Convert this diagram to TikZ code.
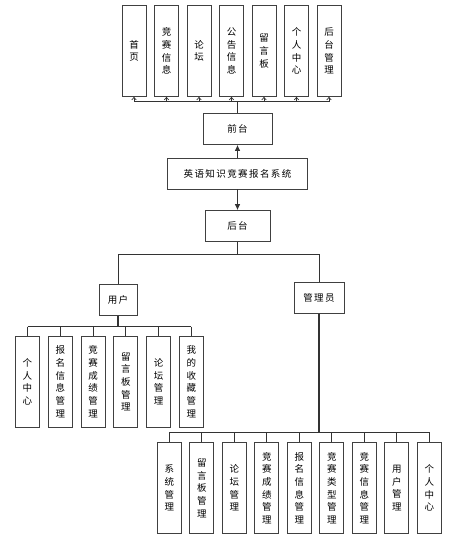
\documentclass[tikz,border=0pt]{standalone}
\usepackage{fontspec}
\newfontfamily\cjk[LetterSpace=15]{Noto Sans CJK SC}
\usepackage{tikz}
\usetikzlibrary{arrows.meta}

\begin{document}
\begin{tikzpicture}[x=1pt,y=-1pt,
	box/.style={draw=black!75,line width=0.8pt,inner sep=0pt,align=center,
		font=\cjk\fontsize{9.5}{12.7}\selectfont},
	tall/.style={box,minimum width=24pt,minimum height=91pt},
	wide/.style={box,minimum height=31pt},
	link/.style={draw=black!80,line width=0.7pt},
	up/.style={link,-{Straight Barb[length=2.5pt,width=4.5pt]}},
	push/.style={link,-{Latex[length=6pt,width=5.5pt]}}]
	\useasboundingbox (0,0) rectangle (474,541);
	% main column
	\node[wide,minimum width=69pt]  (front) at (237.5,129) {前台};
	\node[wide,minimum width=140pt] (sys)   at (237.5,173.5) {英语知识竞赛报名系统};
	\node[wide,minimum width=65pt]  (back)  at (237.5,226) {后台};
	\node[wide,minimum width=38pt]  (user)  at (118,300) {用户};
	\node[wide,minimum width=50pt]  (admin) at (319,298) {管理员};
	% front modules
	\node[tall] (f1) at (134,51)   {首\\页};
	\node[tall] (f2) at (166.5,51) {竞\\赛\\信\\息};
	\node[tall] (f3) at (199,51)   {论\\坛};
	\node[tall] (f4) at (231.5,51) {公\\告\\信\\息};
	\node[tall] (f5) at (264,51)   {留\\言\\板};
	\node[tall] (f6) at (296.5,51) {个\\人\\中\\心};
	\node[tall] (f7) at (329,51)   {后\\台\\管\\理};
	% user modules
	\node[tall] (u1) at (27.5,381.7)  {个\\人\\中\\心};
	\node[tall] (u2) at (60.3,381.7)  {报\\名\\信\\息\\管\\理};
	\node[tall] (u3) at (93,381.7)    {竞\\赛\\成\\绩\\管\\理};
	\node[tall] (u4) at (125.8,381.7) {留\\言\\板\\管\\理};
	\node[tall] (u5) at (158.5,381.7) {论\\坛\\管\\理};
	\node[tall] (u6) at (191.3,381.7) {我\\的\\收\\藏\\管\\理};
	% admin modules
	\node[tall] (a1) at (169.3,488) {系\\统\\管\\理};
	\node[tall] (a2) at (201.8,488) {留\\言\\板\\管\\理};
	\node[tall] (a3) at (234.3,488) {论\\坛\\管\\理};
	\node[tall] (a4) at (266.8,488) {竞\\赛\\成\\绩\\管\\理};
	\node[tall] (a5) at (299.3,488) {报\\名\\信\\息\\管\\理};
	\node[tall] (a6) at (331.8,488) {竞\\赛\\类\\型\\管\\理};
	\node[tall] (a7) at (364.3,488) {竞\\赛\\信\\息\\管\\理};
	\node[tall] (a8) at (396.8,488) {用\\户\\管\\理};
	\node[tall] (a9) at (429.3,488) {个\\人\\中\\心};
	% junctions
	\coordinate (fbus)  at (237.5,101.5);
	\coordinate (split) at (237.5,254);
	\coordinate (ubus)  at (118,326.7);
	\coordinate (abus)  at (319,432.3);
	% connectors
	\draw[push] (sys.north) -- (front.south);
	\draw[push] (sys.south) -- (back.north);
	\draw[link,line width=1.1pt] (front.north) -- (fbus);
	\draw[link] (f1.south |- fbus) -- (f7.south |- fbus);
	\foreach \i in {1,...,7}
		\draw[up] (f\i.south |- fbus) -- (f\i.south);
	\draw[link] (back.south) -- (split);
	\draw[link] (user.north) -- (user.north |- split) -- (admin.north |- split) -- (admin.north);
	\draw[link,line width=1.1pt] (user.south) -- (ubus);
	\draw[link] (u1.north |- ubus) -- (u6.north |- ubus);
	\foreach \i in {1,...,6}
		\draw[link] (u\i.north |- ubus) -- (u\i.north);
	\draw[link,line width=1.1pt] (admin.south) -- (abus);
	\draw[link] (a1.north |- abus) -- (a9.north |- abus);
	\foreach \i in {1,...,9}
		\draw[link] (a\i.north |- abus) -- (a\i.north);
\end{tikzpicture}
\end{document}
